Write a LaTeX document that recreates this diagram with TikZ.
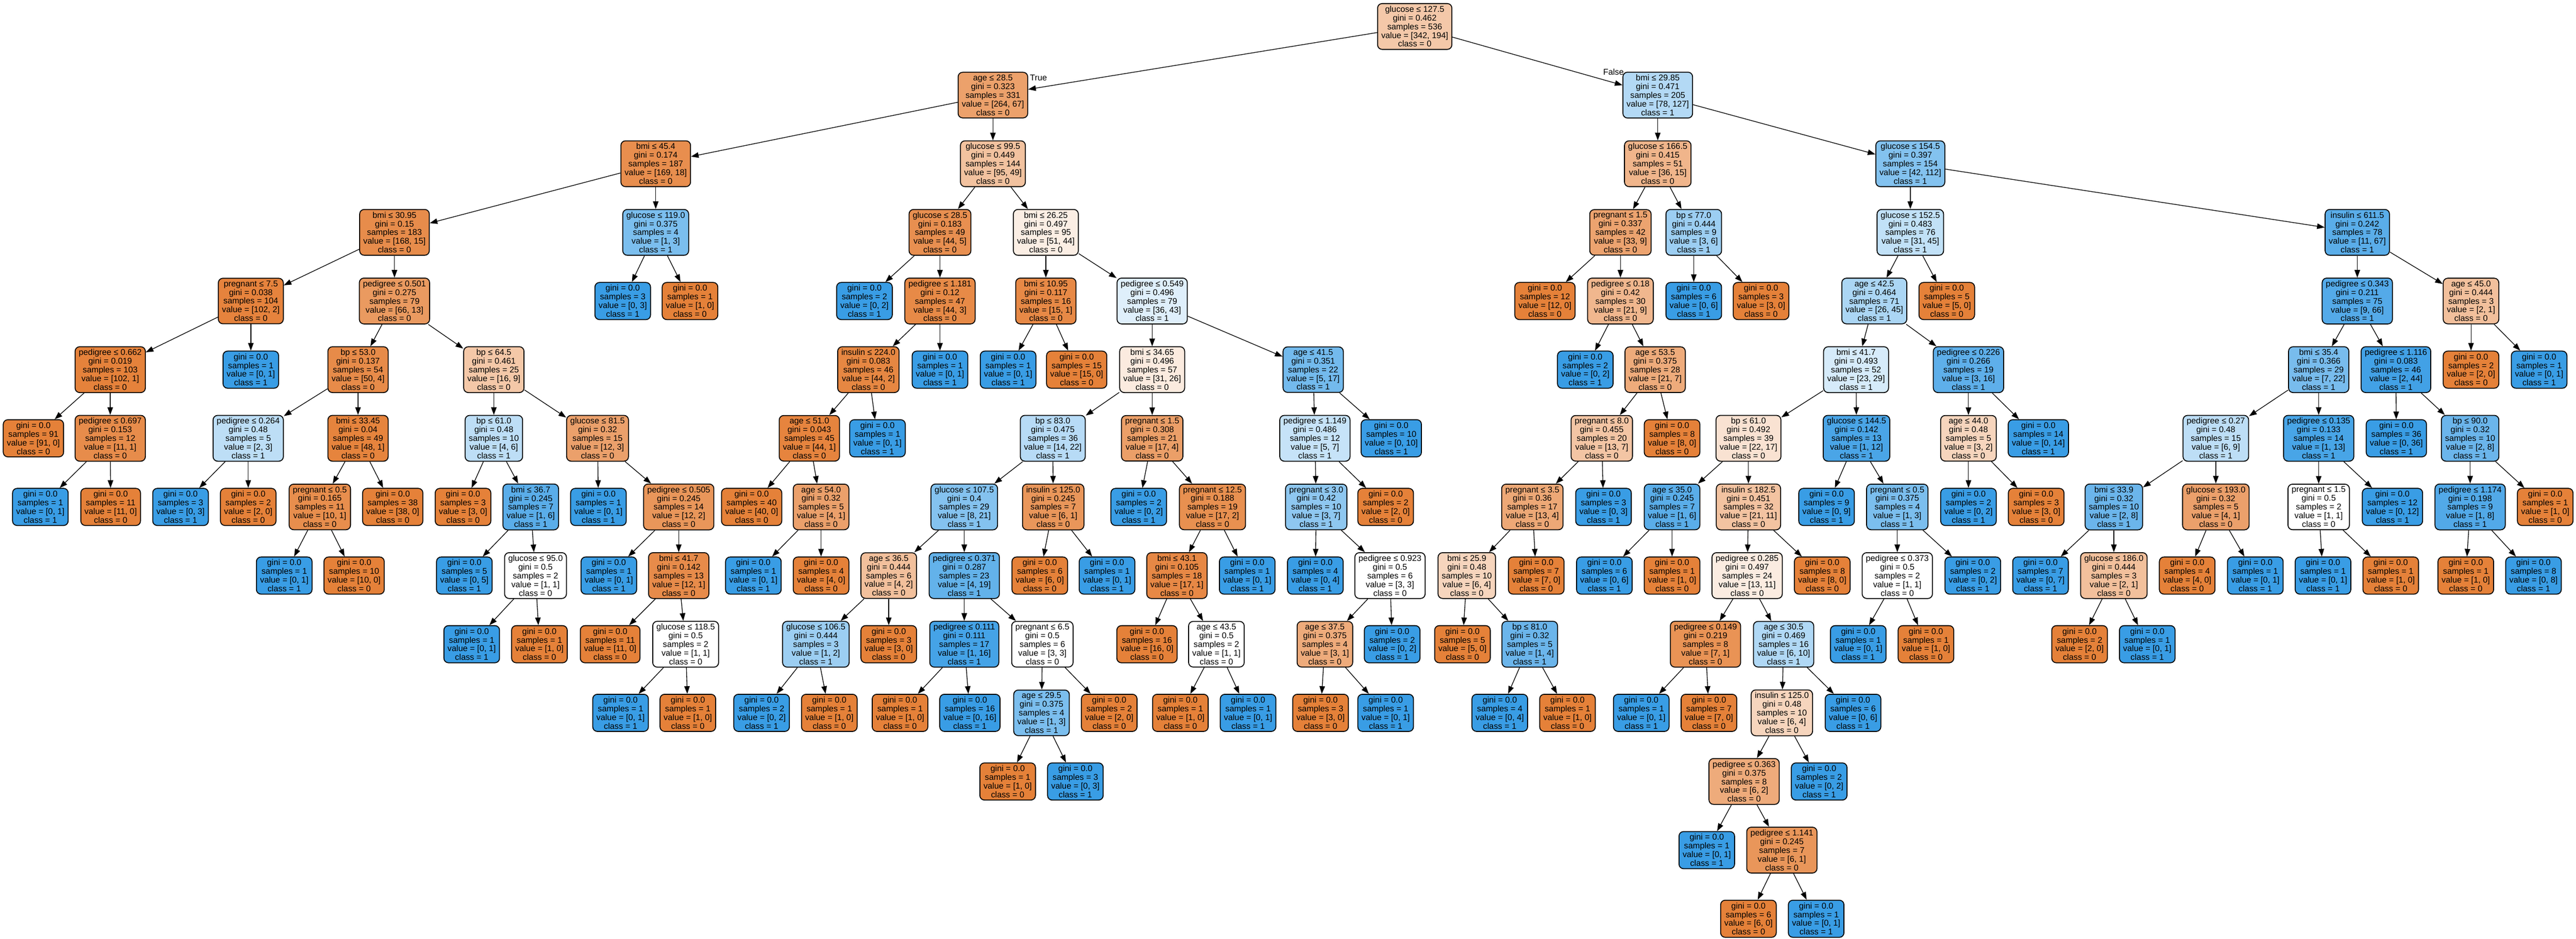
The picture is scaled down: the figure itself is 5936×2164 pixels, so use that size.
\documentclass[tikz,border=0pt]{standalone}
\usepackage{fontspec}
\setmainfont{Liberation Sans}
\usetikzlibrary{arrows.meta}
\definecolor{corg}{HTML}{E58139}
\definecolor{cblu}{HTML}{399DE5}
\tikzset{
  tn/.style={draw=black, line width=0.6pt, rounded corners=3pt, align=center,
    inner xsep=2.4pt, inner ysep=1.6pt, font=\fontsize{5.5}{5.7}\selectfont},
  edge/.style={line width=0.45pt, -{Triangle[length=5pt,width=3.6pt]}},
  elab/.style={font=\fontsize{5.5}{5.7}\selectfont, inner sep=0pt}
}
\newcommand\mkfill[2]{%
  \ifnum#1<#2\relax
    \pgfmathsetmacro\al{(#2-#1)/#2*100}\def\base{cblu}\def\cls{1}%
  \else
    \pgfmathsetmacro\al{(#1-#2)/#1*100}\def\base{corg}\def\cls{0}%
  \fi}
% \Dn{name}{parent}{x}{level}{cond}{gini}{a}{b}
\newcommand\Dn[8]{%
  \mkfill{#7}{#8}%
  \node[tn, fill=\base!\al!white] (#1) at (#3,{61+158.2*#4})
    {#5\\gini = #6\\samples = \the\numexpr#7+#8\relax\\value = [#7, #8]\\class = \cls};
  \if\relax\detokenize{#2}\relax\else\draw[edge] (#2) -- (#1);\fi}
% \Lf{name}{parent}{x}{level}{a}{b}
\newcommand\Lf[6]{%
  \mkfill{#5}{#6}%
  \node[tn, fill=\base!\al!white] (#1) at (#3,{61+158.2*#4})
    {gini = 0.0\\samples = \the\numexpr#5+#6\relax\\value = [#5, #6]\\class = \cls};
  \draw[edge] (#2) -- (#1);}
\begin{document}
\begin{tikzpicture}[x=0.01cm,y=-0.01cm]
\useasboundingbox (0,0) rectangle (5936,2164);
\Dn{r}{}{3260}{0}{glucose ≤ 127.5}{0.462}{342}{194}
\Dn{n1}{r}{2288}{1}{age ≤ 28.5}{0.323}{264}{67}
\Dn{n2}{r}{3820}{1}{bmi ≤ 29.85}{0.471}{78}{127}
\node[elab] (tl) at (2393,179) {True};
\node[elab] (fl) at (3718,166) {False};
% L2
\Dn{n11}{n1}{1511}{2}{bmi ≤ 45.4}{0.174}{169}{18}
\Dn{n12}{n1}{2288}{2}{glucose ≤ 99.5}{0.449}{95}{49}
\Dn{n21}{n2}{3820}{2}{glucose ≤ 166.5}{0.415}{36}{15}
\Dn{n22}{n2}{4402}{2}{glucose ≤ 154.5}{0.397}{42}{112}
% L3
\Dn{a}{n11}{909}{3}{bmi ≤ 30.95}{0.15}{168}{15}
\Dn{b}{n11}{1511}{3}{glucose ≤ 119.0}{0.375}{1}{3}
\Dn{c}{n12}{2166}{3}{glucose ≤ 28.5}{0.183}{44}{5}
\Dn{d}{n12}{2410}{3}{bmi ≤ 26.25}{0.497}{51}{44}
\Dn{e}{n21}{3734}{3}{pregnant ≤ 1.5}{0.337}{33}{9}
\Dn{f}{n21}{3903}{3}{bp ≤ 77.0}{0.444}{3}{6}
\Dn{g}{n22}{4402}{3}{glucose ≤ 152.5}{0.483}{31}{45}
\Dn{h}{n22}{5432}{3}{insulin ≤ 611.5}{0.242}{11}{67}
% L4
\Dn{a1}{a}{578}{4}{pregnant ≤ 7.5}{0.038}{102}{2}
\Dn{a2}{a}{909}{4}{pedigree ≤ 0.501}{0.275}{66}{13}
\Lf{b1}{b}{1435}{4}{0}{3}
\Lf{b2}{b}{1590}{4}{1}{0}
\Lf{c1}{c}{1992}{4}{0}{2}
\Dn{c2}{c}{2166}{4}{pedigree ≤ 1.181}{0.12}{44}{3}
\Dn{d1}{d}{2410}{4}{bmi ≤ 10.95}{0.117}{15}{1}
\Dn{d2}{d}{2655}{4}{pedigree ≤ 0.549}{0.496}{36}{43}
\Lf{e1}{e}{3560}{4}{12}{0}
\Dn{e2}{e}{3734}{4}{pedigree ≤ 0.18}{0.42}{21}{9}
\Lf{f1}{f}{3903}{4}{0}{6}
\Lf{f2}{f}{4058}{4}{3}{0}
\Dn{g1}{g}{4319}{4}{age ≤ 42.5}{0.464}{26}{45}
\Lf{g2}{g}{4486}{4}{5}{0}
\Dn{h1}{h}{5432}{4}{pedigree ≤ 0.343}{0.211}{9}{66}
\Dn{h2}{h}{5694}{4}{age ≤ 45.0}{0.444}{2}{1}
% L5
\Dn{a11}{a1}{254}{5}{pedigree ≤ 0.662}{0.019}{102}{1}
\Lf{a12}{a1}{578}{5}{0}{1}
\Dn{a21}{a2}{825}{5}{bp ≤ 53.0}{0.137}{50}{4}
\Dn{a22}{a2}{1138}{5}{bp ≤ 64.5}{0.461}{16}{9}
\Dn{c21}{c2}{2001}{5}{insulin ≤ 224.0}{0.083}{44}{2}
\Lf{c22}{c2}{2166}{5}{0}{1}
\Lf{d11}{d1}{2323}{5}{0}{1}
\Lf{d12}{d1}{2481}{5}{15}{0}
\Dn{d21}{d2}{2655}{5}{bmi ≤ 34.65}{0.496}{31}{26}
\Dn{d22}{d2}{3026}{5}{age ≤ 41.5}{0.351}{5}{17}
\Lf{e21}{e2}{3653}{5}{0}{2}
\Dn{e22}{e2}{3814}{5}{age ≤ 53.5}{0.375}{21}{7}
\Dn{g11}{g1}{4277}{5}{bmi ≤ 41.7}{0.493}{23}{29}
\Dn{g12}{g1}{4536}{5}{pedigree ≤ 0.226}{0.266}{3}{16}
\Dn{h11}{h1}{5343}{5}{bmi ≤ 35.4}{0.366}{7}{22}
\Dn{h12}{h1}{5521}{5}{pedigree ≤ 1.116}{0.083}{2}{44}
\Lf{h21}{h2}{5694}{5}{2}{0}
\Lf{h22}{h2}{5851}{5}{0}{1}
% L6
\Lf{a111}{a11}{77}{6}{91}{0}
\Dn{a112}{a11}{254}{6}{pedigree ≤ 0.697}{0.153}{11}{1}
\Dn{a211}{a21}{572}{6}{pedigree ≤ 0.264}{0.48}{2}{3}
\Dn{a212}{a21}{825}{6}{bmi ≤ 33.45}{0.04}{48}{1}
\Dn{a221}{a22}{1138}{6}{bp ≤ 61.0}{0.48}{4}{6}
\Dn{a222}{a22}{1377}{6}{glucose ≤ 81.5}{0.32}{12}{3}
\Dn{c211}{c21}{1865}{6}{age ≤ 51.0}{0.043}{44}{1}
\Lf{c212}{c21}{2022}{6}{0}{1}
\Dn{d211}{d21}{2426}{6}{bp ≤ 83.0}{0.475}{14}{22}
\Dn{d212}{d21}{2655}{6}{pregnant ≤ 1.5}{0.308}{17}{4}
\Dn{d221}{d22}{3030}{6}{pedigree ≤ 1.149}{0.486}{5}{7}
\Lf{d222}{d22}{3206}{6}{0}{10}
\Dn{e221}{e22}{3691}{6}{pregnant ≤ 8.0}{0.455}{13}{7}
\Lf{e222}{e22}{3853}{6}{8}{0}
\Dn{g111}{g11}{4029}{6}{bp ≤ 61.0}{0.492}{22}{17}
\Dn{g112}{g11}{4278}{6}{glucose ≤ 144.5}{0.142}{1}{12}
\Dn{g121}{g12}{4536}{6}{age ≤ 44.0}{0.48}{3}{2}
\Lf{g122}{g12}{4697}{6}{0}{14}
\Dn{h111}{h11}{5106}{6}{pedigree ≤ 0.27}{0.48}{6}{9}
\Dn{h112}{h11}{5343}{6}{pedigree ≤ 0.135}{0.133}{1}{13}
\Lf{h121}{h12}{5522}{6}{0}{36}
\Dn{h122}{h12}{5692}{6}{bp ≤ 90.0}{0.32}{2}{8}
% L7
\Lf{a1121}{a112}{93}{7}{0}{1}
\Lf{a1122}{a112}{255}{7}{11}{0}
\Lf{a2111}{a211}{416}{7}{0}{3}
\Lf{a2112}{a211}{572}{7}{2}{0}
\Dn{a2121}{a212}{737}{7}{pregnant ≤ 0.5}{0.165}{10}{1}
\Lf{a2122}{a212}{905}{7}{38}{0}
\Lf{a2211}{a221}{1067}{7}{3}{0}
\Dn{a2212}{a221}{1223}{7}{bmi ≤ 36.7}{0.245}{1}{6}
\Lf{a2221}{a222}{1379}{7}{0}{1}
\Dn{a2222}{a222}{1564}{7}{pedigree ≤ 0.505}{0.245}{12}{2}
\Lf{c2111}{c211}{1732}{7}{40}{0}
\Dn{c2112}{c211}{1892}{7}{age ≤ 54.0}{0.32}{4}{1}
\Dn{d2111}{d211}{2222}{7}{glucose ≤ 107.5}{0.4}{8}{21}
\Dn{d2112}{d211}{2427}{7}{insulin ≤ 125.0}{0.245}{6}{1}
\Lf{d2121}{d212}{2624}{7}{0}{2}
\Dn{d2122}{d212}{2794}{7}{pregnant ≤ 12.5}{0.188}{17}{2}
\Dn{d2211}{d221}{3033}{7}{pregnant ≤ 3.0}{0.42}{3}{7}
\Lf{d2212}{d221}{3193}{7}{2}{0}
\Dn{e2211}{e221}{3531}{7}{pregnant ≤ 3.5}{0.36}{13}{4}
\Lf{e2212}{e221}{3695}{7}{0}{3}
\Dn{g1111}{g111}{3853}{7}{age ≤ 35.0}{0.245}{1}{6}
\Dn{g1112}{g111}{4029}{7}{insulin ≤ 182.5}{0.451}{21}{11}
\Lf{g1121}{g112}{4209}{7}{0}{9}
\Dn{g1122}{g112}{4372}{7}{pregnant ≤ 0.5}{0.375}{1}{3}
\Lf{g1211}{g121}{4536}{7}{0}{2}
\Lf{g1212}{g121}{4692}{7}{3}{0}
\Dn{h1111}{h111}{4871}{7}{bmi ≤ 33.9}{0.32}{2}{8}
\Dn{h1112}{h111}{5106}{7}{glucose ≤ 193.0}{0.32}{4}{1}
\Dn{h1121}{h112}{5343}{7}{pregnant ≤ 1.5}{0.5}{1}{1}
\Lf{h1122}{h112}{5513}{7}{0}{12}
\Dn{h1221}{h122}{5692}{7}{pedigree ≤ 1.174}{0.198}{1}{8}
\Lf{h1222}{h122}{5865}{7}{1}{0}
% L8
\Lf{a21211}{a2121}{655}{8}{0}{1}
\Lf{a21212}{a2121}{816}{8}{10}{0}
\Lf{a22121}{a2212}{1070}{8}{0}{5}
\Dn{a22122}{a2212}{1234}{8}{glucose ≤ 95.0}{0.5}{1}{1}
\Lf{a22221}{a2222}{1403}{8}{0}{1}
\Dn{a22222}{a2222}{1564}{8}{bmi ≤ 41.7}{0.142}{12}{1}
\Lf{c21121}{c2112}{1736}{8}{0}{1}
\Lf{c21122}{c2112}{1892}{8}{4}{0}
\Dn{d21111}{d2111}{2048}{8}{age ≤ 36.5}{0.444}{4}{2}
\Dn{d21112}{d2111}{2222}{8}{pedigree ≤ 0.371}{0.287}{4}{19}
\Lf{d21121}{d2112}{2396}{8}{6}{0}
\Lf{d21122}{d2112}{2551}{8}{0}{1}
\Dn{d21221}{d2122}{2712}{8}{bmi ≤ 43.1}{0.105}{17}{1}
\Lf{d21222}{d2122}{2874}{8}{0}{1}
\Lf{d22111}{d2211}{3031}{8}{0}{4}
\Dn{d22112}{d2211}{3203}{8}{pedigree ≤ 0.923}{0.5}{3}{3}
\Dn{e22111}{e2211}{3380}{8}{bmi ≤ 25.9}{0.48}{6}{4}
\Lf{e22112}{e2211}{3540}{8}{7}{0}
\Lf{g11111}{g1111}{3697}{8}{0}{6}
\Lf{g11112}{g1111}{3853}{8}{1}{0}
\Dn{g11121}{g1112}{4026}{8}{pedigree ≤ 0.285}{0.497}{13}{11}
\Lf{g11122}{g1112}{4199}{8}{8}{0}
\Dn{g11221}{g1122}{4372}{8}{pedigree ≤ 0.373}{0.5}{1}{1}
\Lf{g11222}{g1122}{4546}{8}{0}{2}
\Lf{h11111}{h1111}{4702}{8}{0}{7}
\Dn{h11112}{h1111}{4871}{8}{glucose ≤ 186.0}{0.444}{2}{1}
\Lf{h11121}{h1112}{5040}{8}{4}{0}
\Lf{h11122}{h1112}{5197}{8}{0}{1}
\Lf{h11211}{h1121}{5353}{8}{0}{1}
\Lf{h11212}{h1121}{5509}{8}{1}{0}
\Lf{h12211}{h1221}{5682}{8}{1}{0}
\Lf{h12212}{h1221}{5838}{8}{0}{8}
% L9
\Lf{a221221}{a22122}{1087}{9}{0}{1}
\Lf{a221222}{a22122}{1243}{9}{1}{0}
\Lf{a222221}{a22222}{1406}{9}{11}{0}
\Dn{a222222}{a22222}{1580}{9}{glucose ≤ 118.5}{0.5}{1}{1}
\Dn{d211111}{d21111}{1880}{9}{glucose ≤ 106.5}{0.444}{1}{2}
\Lf{d211112}{d21111}{2048}{9}{3}{0}
\Dn{d211121}{d21112}{2222}{9}{pedigree ≤ 0.111}{0.111}{1}{16}
\Dn{d211122}{d21112}{2402}{9}{pregnant ≤ 6.5}{0.5}{3}{3}
\Lf{d212211}{d21221}{2643}{9}{16}{0}
\Dn{d212212}{d21221}{2803}{9}{age ≤ 43.5}{0.5}{1}{1}
\Dn{d221121}{d22112}{3053}{9}{age ≤ 37.5}{0.375}{3}{1}
\Lf{d221122}{d22112}{3208}{9}{0}{2}
\Lf{e221111}{e22111}{3370}{9}{5}{0}
\Dn{e221112}{e22111}{3525}{9}{bp ≤ 81.0}{0.32}{1}{4}
\Dn{g111211}{g11121}{3930}{9}{pedigree ≤ 0.149}{0.219}{7}{1}
\Dn{g111212}{g11121}{4110}{9}{age ≤ 30.5}{0.469}{6}{10}
\Lf{g112211}{g11221}{4282}{9}{0}{1}
\Lf{g112212}{g11221}{4438}{9}{1}{0}
\Lf{h111121}{h11112}{4792}{9}{2}{0}
\Lf{h111122}{h11112}{4948}{9}{0}{1}
% L10
\Lf{a2222221}{a222222}{1430}{10}{0}{1}
\Lf{a2222222}{a222222}{1585}{10}{1}{0}
\Lf{d2111111}{d211111}{1755}{10}{0}{2}
\Lf{d2111112}{d211111}{1911}{10}{1}{0}
\Lf{d2111211}{d211121}{2074}{10}{1}{0}
\Lf{d2111212}{d211121}{2235}{10}{0}{16}
\Dn{d2111221}{d211122}{2400}{10}{age ≤ 29.5}{0.375}{1}{3}
\Lf{d2111222}{d211122}{2556}{10}{2}{0}
\Lf{d2122121}{d212212}{2720}{10}{1}{0}
\Lf{d2122122}{d212212}{2876}{10}{0}{1}
\Lf{d2211211}{d221121}{3043}{10}{3}{0}
\Lf{d2211212}{d221121}{3193}{10}{0}{1}
\Lf{e2211121}{e221112}{3456}{10}{0}{4}
\Lf{e2211122}{e221112}{3612}{10}{1}{0}
\Lf{g1112111}{g111211}{3782}{10}{0}{1}
\Lf{g1112112}{g111211}{3938}{10}{7}{0}
\Dn{g1112121}{g111212}{4106}{10}{insulin ≤ 125.0}{0.48}{6}{4}
\Lf{g1112122}{g111212}{4270}{10}{0}{6}
% L11
\Lf{d21112211}{d2111221}{2322}{11}{1}{0}
\Lf{d21112212}{d2111221}{2478}{11}{0}{3}
\Dn{g11121211}{g1112121}{4019}{11}{pedigree ≤ 0.363}{0.375}{6}{2}
\Lf{g11121212}{g1112121}{4192}{11}{0}{2}
% L12
\Lf{g111212111}{g11121211}{3933}{12}{0}{1}
\Dn{g111212112}{g11121211}{4106}{12}{pedigree ≤ 1.141}{0.245}{6}{1}
% L13
\Lf{g1112121121}{g111212112}{4029}{13}{6}{0}
\Lf{g1112121122}{g111212112}{4185}{13}{0}{1}
\end{tikzpicture}
\end{document}
